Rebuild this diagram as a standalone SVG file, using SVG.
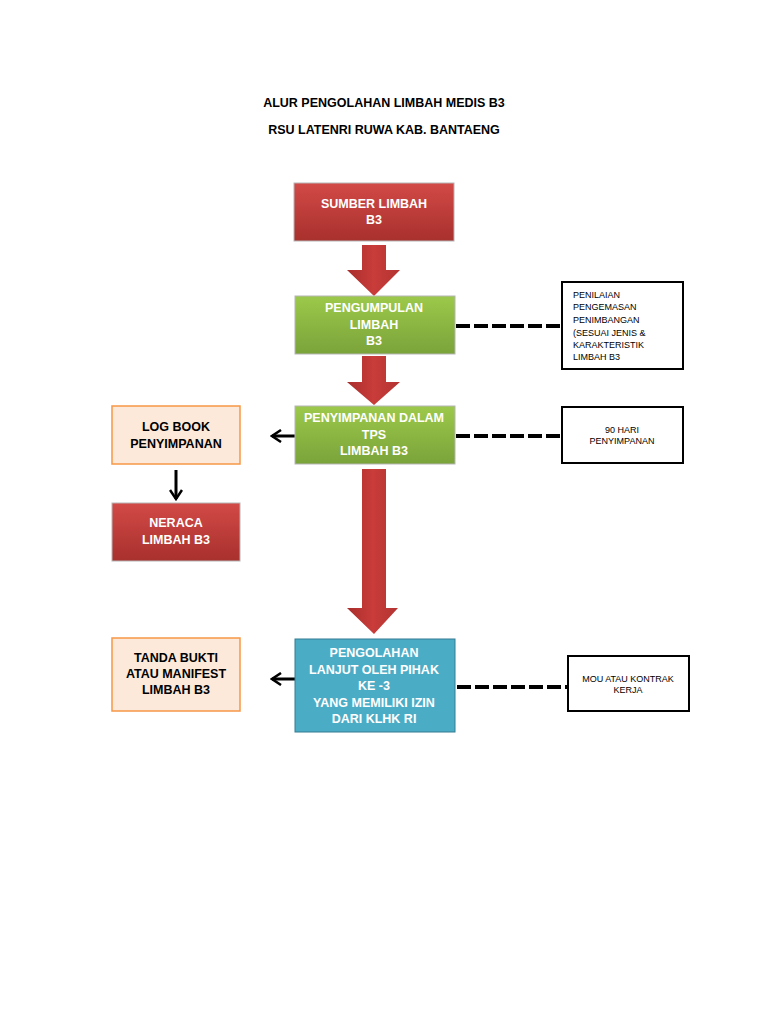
<svg xmlns="http://www.w3.org/2000/svg" width="768" height="1024" viewBox="0 0 768 1024">
<defs>
<linearGradient id="gr" x1="0" y1="0" x2="0" y2="1"><stop offset="0" stop-color="#d24a47"/><stop offset="1" stop-color="#a8302d"/></linearGradient>
<linearGradient id="gg" x1="0" y1="0" x2="0" y2="1"><stop offset="0" stop-color="#9cc94a"/><stop offset="1" stop-color="#7aa33a"/></linearGradient>
<linearGradient id="ga" x1="0" y1="0" x2="1" y2="0"><stop offset="0" stop-color="#a82e2c"/><stop offset="0.5" stop-color="#c93c3a"/><stop offset="1" stop-color="#b23431"/></linearGradient>
<marker id="open" markerWidth="12" markerHeight="14" refX="10" refY="7" orient="auto" markerUnits="userSpaceOnUse"><path d="M1,1 L10,7 L1,13" fill="none" stroke="#000" stroke-width="2.5"/></marker>
</defs>
<style>
text{font-family:"Liberation Sans",Arial,sans-serif;font-weight:bold;text-anchor:middle}
.w{fill:#fff;font-size:12.5px}
.k{fill:#000;font-size:12.5px}
.s{fill:#000;font-size:9px;font-weight:normal}
.red{fill:url(#gr);stroke:#b5b5b5;stroke-width:1}
.grn{fill:url(#gg);stroke:#b5b5b5;stroke-width:1}
.peach{fill:#fde9d9;stroke:#f79646;stroke-width:1.5}
.note{fill:#fff;stroke:#000;stroke-width:2}
.dash{stroke:#000;stroke-width:4;stroke-dasharray:14,4;fill:none}
.ln{stroke:#000;stroke-width:3;fill:none}
</style>
<text class="k" x="384" y="107" font-size="13.5">ALUR PENGOLAHAN LIMBAH MEDIS B3</text>
<text class="k" x="384" y="134" font-size="13.5">RSU LATENRI RUWA KAB. BANTAENG</text>
<g id="connectors">
<path d="M362,245 H386 V270 H400 L374,296 L347,270 H362 Z" fill="url(#ga)"/>
<path d="M362,356 H386 V382 H400 L374,405 L347,382 H362 Z" fill="url(#ga)"/>
<path d="M362,469 H386 V608 H398 L374,634 L347,608 H362 Z" fill="url(#ga)"/>
<line class="dash" x1="456" y1="326" x2="562" y2="326"/>
<line class="dash" x1="456" y1="436" x2="562" y2="436"/>
<line class="dash" x1="457" y1="687" x2="568" y2="687"/>
<line class="ln" x1="321" y1="436" x2="272" y2="436" marker-end="url(#open)"/>
<line class="ln" x1="321" y1="679" x2="272" y2="679" marker-end="url(#open)"/>
<line class="ln" x1="176" y1="470" x2="176" y2="499" marker-end="url(#open)"/>
</g>
<g id="sumber"><rect class="red" x="294" y="183" width="160" height="58"/><text class="w" x="374" y="208">SUMBER LIMBAH</text><text class="w" x="374" y="224">B3</text></g>
<g id="pengumpulan"><rect class="grn" x="295" y="296" width="160" height="58"/><text class="w" x="374" y="312">PENGUMPULAN</text><text class="w" x="374" y="329">LIMBAH</text><text class="w" x="374" y="345">B3</text></g>
<g id="penyimpanan"><rect class="grn" x="295" y="406" width="160" height="58"/><text class="w" x="374" y="422">PENYIMPANAN DALAM</text><text class="w" x="374" y="439">TPS</text><text class="w" x="374" y="455">LIMBAH B3</text></g>
<g id="pengolahan"><rect x="295" y="639" width="160" height="93" fill="#4bacc6" stroke="#357d91" stroke-width="1"/><text class="w" x="374" y="657">PENGOLAHAN</text><text class="w" x="374" y="674">LANJUT OLEH PIHAK</text><text class="w" x="374" y="690">KE -3</text><text class="w" x="374" y="707">YANG MEMILIKI IZIN</text><text class="w" x="374" y="723">DARI KLHK RI</text></g>
<g id="logbook"><rect class="peach" x="112" y="406" width="128" height="58"/><text class="k" x="176" y="431">LOG BOOK</text><text class="k" x="176" y="448">PENYIMPANAN</text></g>
<g id="neraca"><rect class="red" x="112" y="503" width="128" height="58"/><text class="w" x="176" y="527">NERACA</text><text class="w" x="176" y="544">LIMBAH B3</text></g>
<g id="tanda"><rect class="peach" x="112" y="638" width="128" height="73"/><text class="k" x="176" y="662">TANDA BUKTI</text><text class="k" x="176" y="678">ATAU MANIFEST</text><text class="k" x="176" y="694">LIMBAH B3</text></g>
<g id="note1"><rect class="note" x="562" y="282" width="121" height="87"/>
<g style="text-anchor:start">
<text class="s" x="573" y="298" style="text-anchor:start">PENILAIAN</text>
<text class="s" x="573" y="310" style="text-anchor:start">PENGEMASAN</text>
<text class="s" x="573" y="323" style="text-anchor:start">PENIMBANGAN</text>
<text class="s" x="573" y="336" style="text-anchor:start">(SESUAI JENIS &amp;</text>
<text class="s" x="573" y="348" style="text-anchor:start">KARAKTERISTIK</text>
<text class="s" x="573" y="360" style="text-anchor:start">LIMBAH B3</text></g></g>
<g id="note2"><rect class="note" x="562" y="407" width="121" height="56"/><text class="s" x="622" y="433">90 HARI</text><text class="s" x="622" y="444">PENYIMPANAN</text></g>
<g id="note3"><rect class="note" x="568" y="656" width="121" height="55"/><text class="s" x="628" y="682">MOU ATAU KONTRAK</text><text class="s" x="628" y="693">KERJA</text></g>
</svg>
